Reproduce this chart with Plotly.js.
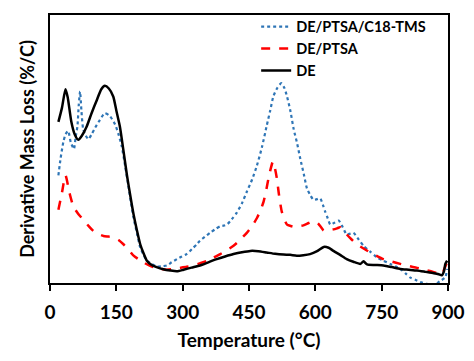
<!DOCTYPE html>
<html><head><meta charset="utf-8">
<script src="https://cdn.plot.ly/plotly-3.0.1.min.js"></script>
<style>html,body{margin:0;padding:0;background:#fff}#c{width:474px;height:361px}</style>
</head><body><div id="c"></div>
<script>
const deT = [19,27,35,40,48,56,64,72,83,94,106,116,124,133,143,150,158,166,174,182,189,197,204,212,219,230,241,256,272,287,302,320,339,358,377,396,415,434,453,471,490,509,528,543,558,573,588,604,619,630,641,656,671,686,702,709,717,735,754,773,792,811,830,849,868,879,886,891,894,898];
const deV = [59.7,65,72,69,60,55,53,54.5,58,63,68,72,73.3,72.3,69.3,64,58,49,39.6,31.5,24.8,18.5,13.6,10,7.4,5.8,5,4.2,3.7,3.4,4,4.8,5.6,6.8,8,9,9.9,10.6,11.1,11,10.5,10,9.7,9.6,9.3,9.5,9.9,11,12.6,12.3,11.1,9.6,8,7,6.2,7.2,6,5.8,5.6,5,4.3,4,3.7,3.2,2.7,2.3,1.9,3.5,6.2,7.4];

const ptsaT = [19,27,35,44,53,64,75,87,98,110,121,132,143,155,166,178,189,200,211,222,234,249,264,279,294,309,324,340,355,370,385,400,415,430,445,457,468,476,483,489,494,499,504,509,513,518,524,530,536,544,551,562,573,585,596,602,607,613,619,630,641,649,656,664,671,682,694,709,724,739,754,773,792,811,830,849,868,878,886,892,898];
const ptsaV = [26.6,33,39.6,33,27.8,25,22.9,20.5,18.6,17.4,16.7,16.5,16.3,15.2,13.6,11.5,9.3,8,6.8,5.8,5,4.4,4,4.3,4.7,5.1,5.6,6.5,7.4,8.6,9.9,11.4,13,15.3,17.9,20.5,23.5,26.4,29.7,34,38.4,42,44.8,42,38.4,32,26,23,21,20.5,20.2,20.4,20.7,21.6,22.3,22,21.3,20,18.8,18.9,19.2,19.6,20,18.7,17.3,15.4,13.6,12,10.5,9.2,8,7.1,6.2,5.4,4.7,3.9,3.1,2.6,2.2,4.5,6.8];

const c18T = [19,24,30,35,41,47,54,58,62,65,68,71,75,81,87,94,102,113,124,135,147,155,162,170,177,183,189,197,204,212,219,230,241,252,264,275,287,298,309,321,332,339,350,362,373,385,392,400,411,422,434,445,457,468,479,490,498,505,514,523,530,536,544,551,559,566,574,581,589,596,604,611,617,622,628,634,644,653,662,671,679,686,698,709,724,739,754,769,781,792,804,815,826,837,852,868,881,894,898];
const c18V = [39.6,46,52,55,56.3,52,49.5,54,58,66,71.2,64,57,54.5,53.2,55,57.5,60.5,63,62,58.8,55,50.7,43,35.9,29.5,23.5,17.5,12.4,9.5,7.4,6.2,5.2,5.3,5.6,6.8,8,9,9.9,11.8,13.6,14.9,16.4,17.9,19.2,20.4,20.6,21,23,25.4,29,33.4,38,43.3,50,58.2,64,69.3,72.5,74.3,72.5,69.3,63.5,57,51.5,45.8,40,34.7,32,30.3,30.6,30.9,28.5,26,23.4,21,21.8,22.5,20,17.3,17.6,17.9,15.4,13,10.8,8.7,7.4,6.2,5.3,4.3,2.6,1,0.2,-0.6,-1.3,-1.9,-0.4,1.2,4.3];

const xTicks = [0,150,300,450,600,750,900];

const F = "Lato, 'Open Sans', sans-serif";
const traces = [
  {x:c18T, y:c18V, name:'DE/PTSA/C18-TMS', mode:'lines', line:{color:'#2E75B6', width:2.2, dash:'dot', shape:'spline', smoothing:0.6}},
  {x:ptsaT, y:ptsaV, name:'DE/PTSA', mode:'lines', line:{color:'#FF0000', width:2.5, dash:'dash', shape:'spline', smoothing:0.6}},
  {x:deT, y:deV, name:'DE', mode:'lines', line:{color:'#000000', width:2.5, shape:'spline', smoothing:0.6}}
];
const layout = {
  width:474, height:361,
  margin:{l:50, r:26, t:14, b:78},
  paper_bgcolor:'#fff', plot_bgcolor:'#fff',
  showlegend:true,
  legend:{x:0.518, y:1.012, xanchor:'left', yanchor:'top', bgcolor:'rgba(0,0,0,0)',
    font:{family:F, size:14.5, color:'#000', weight:'bold'}, tracegroupgap:0},
  xaxis:{range:[0,900], tickvals:xTicks, ticktext:xTicks.map(String), ticks:'outside', ticklen:6, tickwidth:2, tickcolor:'#000',
    ticklabelstandoff:5,
    showline:true, linecolor:'#000', linewidth:2, mirror:true, showgrid:false, zeroline:false,
    tickfont:{family:F, size:19, color:'#000', weight:'bold'},
    title:{text:'Temperature (°C)', font:{family:F, size:19, color:'#000', weight:'bold'}, standoff:12}},
  yaxis:{range:[-1,100], showticklabels:false, ticks:'', showline:true, linecolor:'#000', linewidth:2, mirror:true,
    showgrid:false, zeroline:false,
    title:{text:'Derivative Mass Loss (%/C)', font:{family:F, size:18, color:'#000', weight:'bold'}, standoff:9}}
};
Plotly.newPlot('c', traces, layout, {displayModeBar:false, staticPlot:true});
</script></body></html>
